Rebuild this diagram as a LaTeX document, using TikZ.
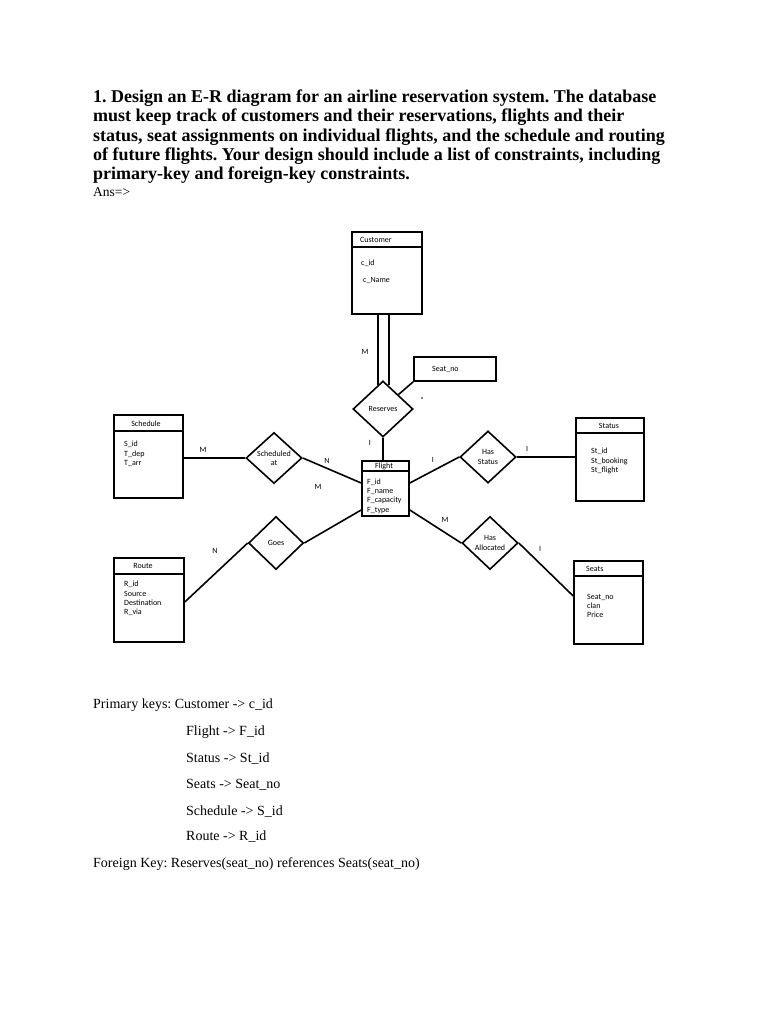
\documentclass[tikz,border=0pt]{standalone}
\usepackage{fontspec}
\setmainfont{Liberation Serif}
\newfontfamily\dgfont{Carlito}
\usetikzlibrary{shapes.geometric}
\newcommand\dgf{\dgfont\fontsize{8}{9.3}\selectfont}
\frenchspacing
\begin{document}
\begin{tikzpicture}[x=1pt,y=-1pt,
  ttl/.style={anchor=base west, inner sep=0, font=\bfseries\fontsize{18}{21}\selectfont},
  ans/.style={anchor=base west, inner sep=0, font=\fontsize{13.5}{16}\selectfont},
  bt/.style={anchor=base west, inner sep=0, font=\fontsize{14}{16}\selectfont},
  ent/.style={draw, line width=1.6pt, inner sep=0},
  rel/.style={diamond, draw, line width=1.6pt, inner sep=0, align=center, font=\dgf},
  lnk/.style={line width=1.6pt},
  dbl/.style={line width=2pt},
  txt/.style={inner sep=0, font=\dgf},
  attr/.style={anchor=base west, inner sep=0, font=\dgf},
  card/.style={inner sep=0, font=\dgf}]
\useasboundingbox (0,0) rectangle (768,1024);
\fill[white] (0,0) rectangle (768,1024);

% title
\node[ttl] (t1) at (93,102.5) {1. Design an E-R diagram for an airline reservation system. The database};
\node[ttl] (t2) at (93,121.8) {must keep track of customers and their reservations, flights and their};
\node[ttl] (t3) at (93,141.1) {status, seat assignments on individual flights, and the schedule and routing};
\node[ttl] (t4) at (93,160.4) {of future flights. Your design should include a list of constraints, including};
\node[ttl] (t5) at (93,179.7) {primary-key and foreign-key constraints.};
\node[ans] (ans) at (93,197) {Ans=>};

% entities
\node[ent, minimum width=70, minimum height=82] (cust) at (387,273) {};
\draw[lnk] ([yshift=-16]cust.north west) -- ([yshift=-16]cust.north east);
\node[attr] (custh) at (360,243) {Customer};
\node[attr] (cust1) at (361,265) {c\_id};
\node[attr] (cust2) at (363,282) {c\_Name};

\node[ent, minimum width=82, minimum height=24] (seatno) at (455,369) {};
\node[txt, anchor=west] (seatnot) at (432,369) {Seat\_no};

\node[ent, minimum width=69, minimum height=83] (sched) at (148.5,456.5) {};
\draw[lnk] ([yshift=-17]sched.north west) -- ([yshift=-17]sched.north east);
\node[txt] (schedh) at (146,424) {Schedule};
\node[attr] (sched1) at (124,446) {S\_id};
\node[attr] (sched2) at (124,456) {T\_dep};
\node[attr] (sched3) at (124,465) {T\_arr};

\node[ent, minimum width=70, minimum height=84] (route) at (149,600) {};
\draw[lnk] ([yshift=-17]route.north west) -- ([yshift=-17]route.north east);
\node[txt] (routeh) at (143,566) {Route};
\node[attr] (route1) at (124,586) {R\_id};
\node[attr] (route2) at (124,596) {Source};
\node[attr] (route3) at (124,605) {Destination};
\node[attr] (route4) at (124,614) {R\_via};

\node[ent, minimum width=47, minimum height=55] (flight) at (385.5,488.5) {};
\draw[lnk] ([yshift=-11]flight.north west) -- ([yshift=-11]flight.north east);
\node[txt] (flighth) at (384,466) {Flight};
\node[attr] (flight1) at (367,484) {F\_id};
\node[attr] (flight2) at (367,493) {F\_name};
\node[attr] (flight3) at (367,502) {F\_capacity};
\node[attr] (flight4) at (367,512) {F\_type};

\node[ent, minimum width=68, minimum height=83] (status) at (610,459.5) {};
\draw[lnk] ([yshift=-16]status.north west) -- ([yshift=-16]status.north east);
\node[txt] (statush) at (609,426) {Status};
\node[attr] (status1) at (591,453) {St\_id};
\node[attr] (status2) at (591,463) {St\_booking};
\node[attr] (status3) at (591,472) {St\_flight};

\node[ent, minimum width=69, minimum height=83] (seats) at (608.5,602.5) {};
\draw[lnk] ([yshift=-16]seats.north west) -- ([yshift=-16]seats.north east);
\node[txt, anchor=west] (seatsh) at (586,569) {Seats};
\node[attr] (seats1) at (587,599) {Seat\_no};
\node[attr] (seats2) at (587,608) {clan};
\node[attr] (seats3) at (587,617) {Price};

% relationships
\node[rel, minimum width=60, minimum height=56] (res) at (383,409) {Reserves};
\node[rel, minimum width=56, minimum height=51] (sch) at (274,458) {Scheduled\\at};
\node[rel, minimum width=55, minimum height=53] (goes) at (276,543) {Goes};
\node[rel, minimum width=56, minimum height=52] (hs) at (488,457) {Has\\Status};
\node[rel, minimum width=56, minimum height=53] (ha) at (490,543) {Has\\Allocated};

% connectors
\draw[dbl] ([xshift=-9.5]cust.south) -- ([xshift=-5.5,yshift=-5.1]res.north);
\draw[dbl] ([xshift=1.5]cust.south) -- ([xshift=5.5,yshift=-5.1]res.north);
\draw[lnk] (seatno.south west) -- (res.north east);
\draw[lnk] (res.south) -- (res.south |- flight.north);
\draw[lnk] (sch.west -| sched.east) -- (sch.west);
\draw[lnk] (sch.east) -- ([yshift=5.5]flight.west);
\draw[lnk] (goes.east) -- ([yshift=-21.5]flight.west);
\draw[lnk] ([yshift=-2]route.east) -- (goes.west);
\draw[lnk] ([yshift=5.5]flight.east) -- (hs.west);
\draw[lnk] (hs.east) -- (hs.east -| status.west);
\draw[lnk] ([yshift=-21.5]flight.east) -- (ha.west);
\draw[lnk] (ha.east) -- ([yshift=6.5]seats.west);
\node[circle, fill, inner sep=0, minimum size=1.8] (dot) at (422,398) {};

% cardinalities
\node[card] (c1) at (365,352) {M};
\node[card] (c2) at (370,443) {I};
\node[card] (c3) at (203,450) {M};
\node[card] (c4) at (327,461) {N};
\node[card] (c5) at (318,487) {M};
\node[card] (c6) at (215,551) {N};
\node[card] (c7) at (433,460) {I};
\node[card] (c8) at (527,449) {I};
\node[card] (c9) at (445,520) {M};
\node[card] (c10) at (540,549) {I};

% keys
\node[bt] (k1) at (93,708) {Primary keys: Customer -> c\_id};
\node[bt] (k2) at (186,735) {Flight -> F\_id};
\node[bt] (k3) at (186,762) {Status -> St\_id};
\node[bt] (k4) at (186,788) {Seats -> Seat\_no};
\node[bt] (k5) at (186,815) {Schedule -> S\_id};
\node[bt] (k6) at (186,840) {Route -> R\_id};
\node[bt] (k7) at (93,867) {Foreign Key: Reserves(seat\_no) references Seats(seat\_no)};
\end{tikzpicture}
\end{document}
